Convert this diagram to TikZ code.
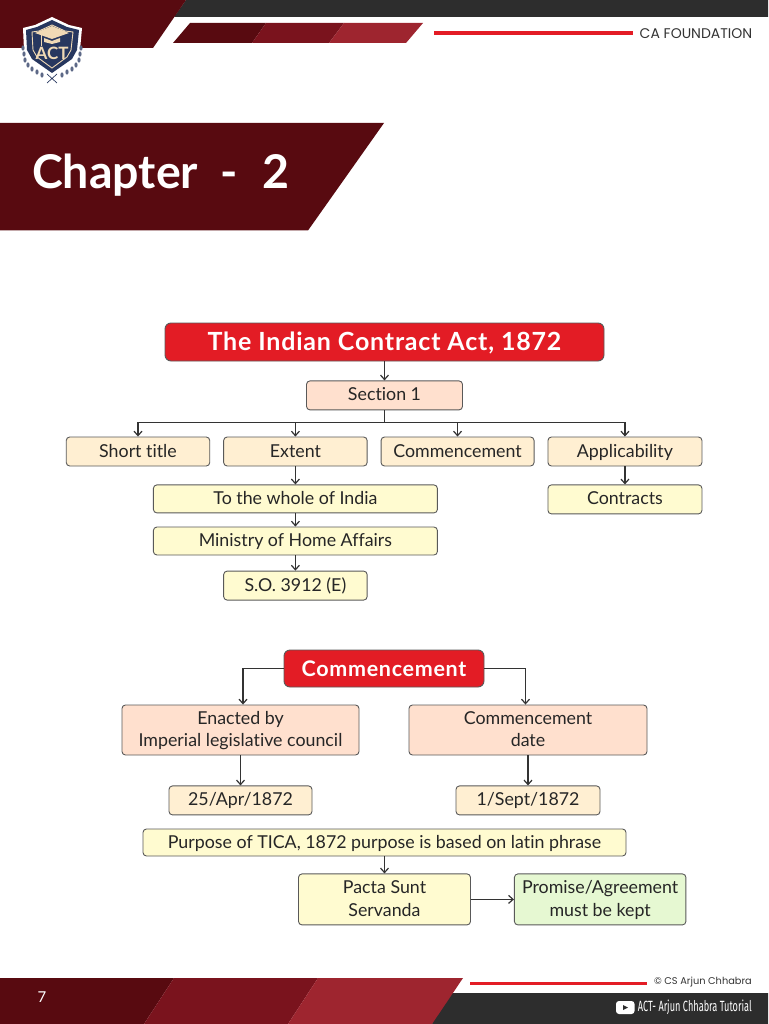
\documentclass[tikz,border=0pt]{standalone}
\usepackage{fontspec}
\setmainfont[Ligatures=CommonOff]{Lato}
\newfontfamily\spacedfont[LetterSpace=3.2,Ligatures=CommonOff]{Lato}
\newfontfamily\headfont{Poppins}
\newfontfamily\condfont[FakeStretch=0.62]{Fira Sans}
\usetikzlibrary{arrows.meta,positioning}
\definecolor{maroon}{HTML}{580A10}
\definecolor{wine}{HTML}{7A131D}
\definecolor{rosewood}{HTML}{9E252F}
\definecolor{charcoal}{HTML}{2D2D2D}
\definecolor{signal}{HTML}{E31C25}
\definecolor{peach}{HTML}{FFE0CE}
\definecolor{tan}{HTML}{FFEFD2}
\definecolor{cream}{HTML}{FFFBD0}
\definecolor{mint}{HTML}{E6F8D2}
\definecolor{navy}{HTML}{27375F}
\definecolor{capcol}{HTML}{F0D9B5}
\newcommand{\fsz}[1]{\fontsize{#1}{#1}\selectfont}
\newcommand{\upstrut}{\rule{0pt}{17pt}}

\begin{document}
\begin{tikzpicture}[x=1pt, y=-1pt, node distance=14pt and 14pt,
  box/.style={draw=black!65, line width=0.9pt, rounded corners=3.5pt, align=center, inner sep=0pt, font=\fsz{17.8}, text=black!85},
  oneline/.style={text height=14pt, text depth=3pt},
  headbox/.style={box, fill=signal, rounded corners=6pt, text=white},
  peachbox/.style={box, fill=peach},
  tanbox/.style={box, oneline, fill=tan, minimum height=29pt},
  creambox/.style={box, oneline, fill=cream, minimum height=28pt},
  greenbox/.style={box, fill=mint},
  arr/.style={-{Straight Barb[length=4.5pt,width=8pt]}, line width=1.2pt, draw=black!80},
  stem/.style={line width=1.2pt, draw=black!80}]
\useasboundingbox (0,0) rectangle (768,1024);
% header
\fill[charcoal] (174,17) -- (186,0) -- (768,0) -- (768,17) -- cycle;
\fill[maroon] (0,0) -- (186,0) -- (153,48) -- (0,48) -- cycle;
\fill[maroon] (190,23) -- (266,23) -- (252,43) -- (173,43) -- cycle;
\fill[wine] (266,23) -- (344,23) -- (329,43) -- (252,43) -- cycle;
\fill[rosewood] (344,23) -- (423,23) -- (406,43) -- (329,43) -- cycle;
\fill[signal] (434,31.5) rectangle (633,35);
\node[text=black!80, font=\headfont\fsz{14}, inner sep=0pt] (course) at (696,33.5) {CA FOUNDATION};
% logo
\fill[white] (52,17) -- (69,25) -- (82,28) -- (80,50) -- (75,60) -- (52,76) -- (29,60) -- (24,50) -- (23,28) -- (35,25) -- cycle;
\fill[navy] (52,20) -- (67,27) -- (79,30) -- (77,50) -- (72,59) -- (52,73) -- (32,59) -- (27,50) -- (26,30) -- (37,27) -- cycle;
\draw[capcol, line width=0.9pt] (52,25) -- (65,31) -- (73,32) -- (71,50) -- (67,57) -- (52,68) -- (37,57) -- (33,50) -- (32,32) -- (39,31) -- cycle;
\fill[capcol] (52,26) -- (69,33) -- (52,39) -- (35,33) -- cycle;
\fill[capcol] (44,38) -- (52,41) -- (60,38) -- (60,42) -- (52,44) -- (44,42) -- cycle;
\draw[capcol, line width=0.8pt] (41,33) -- (41,46);
\node[text=capcol, font=\bfseries\fsz{17}, inner sep=0pt] (logoact) at (52,53) {ACT};
\foreach \t/\y in {23/48,24/54,25/60,28/65,32/69,37/72,42/75} {
  \fill[navy!75] (\t,\y) circle[x radius=1.6pt, y radius=2.6pt];
  \fill[navy!75] ({104-\t},\y) circle[x radius=1.6pt, y radius=2.6pt];
}
\draw[navy, line width=0.7pt] (47,83) -- (57,74) (57,83) -- (47,74);
% chapter banner
\fill[maroon] (0,123) -- (384,123) -- (308,230.5) -- (0,230.5) -- cycle;
\node[text=white, font=\bfseries\fsz{46.5}, anchor=west, inner sep=0pt] (chapter) at (32,175) {Chapter\hspace{22pt}-\hspace{25pt}2};
% first chart
\node[headbox, text height=20pt, text depth=3pt, minimum width=439pt, minimum height=38pt, font=\spacedfont\bfseries\fsz{25}] (act) at (384.5,342) {The Indian Contract Act, 1872};
\node[peachbox, oneline, minimum width=156pt, minimum height=29pt, below=19pt of act] (sec) {Section 1};
\node[tanbox, minimum width=143.5pt] (short) at (138,451.5) {Short title};
\node[tanbox, minimum width=143.5pt, right=13pt of short] (extent) {Extent};
\node[tanbox, minimum width=153pt, right=13pt of extent] (comm) {Commencement};
\node[tanbox, minimum width=154pt, right=13pt of comm] (appl) {Applicability};
\node[creambox, minimum width=284pt, below=18pt of extent] (whole) {To the whole of India};
\node[creambox, minimum width=284pt, below=13.2pt of whole] (moha) {Ministry of Home Affairs};
\node[tanbox, fill=cream, minimum width=143.5pt, below=15.2pt of moha] (so) {S.O. 3912 (E)};
\node[tanbox, fill=cream, minimum width=154pt, below=18pt of appl] (contracts) {Contracts};
\coordinate (bus) at (384.5,422.5);
\draw[arr] (act) -- (sec);
\draw[stem] (sec) -- (bus);
\draw[stem] (short |- bus) -- (appl |- bus);
\draw[arr] (bus) -| (short);
\draw[arr] (bus) -| (extent);
\draw[arr] (bus) -| (comm);
\draw[arr] (bus) -| (appl);
\draw[arr] (extent) -- (whole);
\draw[arr] (whole) -- (moha);
\draw[arr] (moha) -- (so);
\draw[arr] (appl) -- (contracts);
% second chart
\node[headbox, minimum width=200pt, minimum height=37pt, font=\spacedfont\bfseries\fsz{21.5}] (start) at (384,668.5) {Commencement};
\node[peachbox, minimum width=237pt, minimum height=50pt] (enact) at (240.5,730) {\upstrut Enacted by\\[4pt]\strut Imperial legislative council};
\node[peachbox, minimum width=238pt, minimum height=50pt] (date) at (528,730) {\upstrut Commencement\\[4pt]\strut date};
\node[tanbox, minimum width=143pt, below=30pt of enact] (apr) {25/Apr/1872};
\node[tanbox, minimum width=144pt, below=30pt of date] (sept) {1/Sept/1872};
\node[creambox, minimum width=483pt, minimum height=27pt] (purpose) at (384.5,842.5) {Purpose of TICA, 1872 purpose is based on latin phrase};
\node[box, fill=cream, minimum width=172pt, minimum height=51pt, below=17pt of purpose] (pacta) {\upstrut Pacta Sunt\\[5pt]\strut Servanda};
\node[greenbox, minimum width=171.5pt, minimum height=51pt, right=43pt of pacta] (promise) {\upstrut Promise/Agreement\\[5pt]\strut must be kept};
\draw[arr] (start.west) -| ([xshift=2.5pt]enact.north);
\draw[arr] (start.east) -| ([xshift=-2.5pt]date.north);
\draw[arr] (enact) -- (apr);
\draw[arr] (date) -- (sept);
\draw[arr] (purpose) -- (pacta);
\draw[arr] (pacta) -- (promise);
% footer
\fill[charcoal] (442,993) -- (768,993) -- (768,1024) -- (432,1024) -- cycle;
\fill[maroon] (0,978) -- (174,978) -- (144,1024) -- (0,1024) -- cycle;
\fill[wine] (174,978) -- (318,978) -- (288,1024) -- (144,1024) -- cycle;
\fill[rosewood] (318,978) -- (463,978) -- (432,1024) -- (288,1024) -- cycle;
\fill[signal] (470,981.5) rectangle (647,985);
\node[text=white, font=\fsz{15}] (pageno) at (42,997) {7};
\node[text=black!80, font=\headfont\fsz{9.8}, anchor=east, inner sep=0pt] (credit) at (752,982.5) {© CS Arjun Chhabra};
\node[text=white, font=\condfont\fsz{14.8}, anchor=east, inner sep=0pt] (channel) at (752,1007.5) {ACT- Arjun Chhabra Tutorial};
\fill[white, rounded corners=3pt] (616,1001) rectangle (634.5,1014);
\fill[charcoal] (623,1005) -- (628,1007.5) -- (623,1010) -- cycle;
\end{tikzpicture}
\end{document}
